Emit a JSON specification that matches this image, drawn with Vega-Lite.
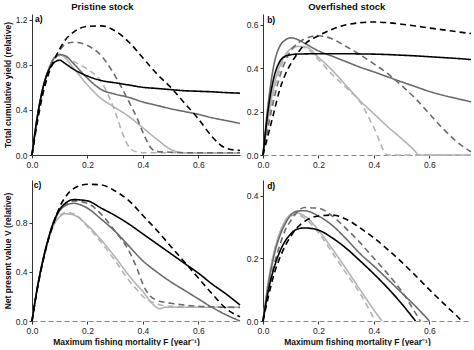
{
  "$schema": "https://vega.github.io/schema/vega-lite/v6.json",
  "padding": {"left": 3, "top": 1, "right": 0, "bottom": 0},
  "background": "white",
  "config": {
    "view": {"stroke": null},
    "font": "Liberation Sans",
    "axis": {"grid": false, "domainColor": "#333", "tickColor": "#333", "labelColor": "#222", "labelFontSize": 8.5, "titleFontSize": 8.5, "titleFontWeight": "bold", "titleColor": "#111", "tickSize": 3, "labelPadding": 2, "labelFlush": false, "labelOverlap": false},
    "title": {"fontSize": 9.5, "fontWeight": "bold", "color": "#111", "anchor": "start"},
    "line": {"strokeWidth": 1.6, "interpolate": "monotone"}
  },
  "datasets": {
    "curves": [
      {"p":"a","F":0,"ks":0,"kd":0,"gs":0,"gd":0,"ls":0,"ld":0},
      {"p":"a","F":0.02,"ks":0.35,"kd":0.3,"gs":0.35,"gd":0.33,"ls":0.35,"ld":0.35},
      {"p":"a","F":0.04,"ks":0.6,"kd":0.55,"gs":0.6,"gd":0.57,"ls":0.6,"ld":0.6},
      {"p":"a","F":0.06,"ks":0.75,"kd":0.72,"gs":0.76,"gd":0.74,"ls":0.76,"ld":0.76},
      {"p":"a","F":0.08,"ks":0.82,"kd":0.84,"gs":0.86,"gd":0.85,"ls":0.86,"ld":0.85},
      {"p":"a","F":0.1,"ks":0.84,"kd":0.94,"gs":0.89,"gd":0.93,"ls":0.89,"ld":0.88},
      {"p":"a","F":0.12,"ks":0.81,"kd":1.02,"gs":0.88,"gd":0.98,"ls":0.86,"ld":0.87},
      {"p":"a","F":0.15,"ks":0.76,"kd":1.09,"gs":0.81,"gd":1.0,"ls":0.77,"ld":0.83},
      {"p":"a","F":0.2,"ks":0.7,"kd":1.14,"gs":0.68,"gd":0.97,"ls":0.62,"ld":0.76},
      {"p":"a","F":0.25,"ks":0.66,"kd":1.145,"gs":0.58,"gd":0.88,"ls":0.5,"ld":0.65},
      {"p":"a","F":0.3,"ks":0.64,"kd":1.1,"gs":0.54,"gd":0.7,"ls":0.42,"ld":0.38},
      {"p":"a","F":0.33,"ld":0.17},
      {"p":"a","F":0.35,"ks":0.62,"kd":1.0,"gs":0.51,"gd":0.47,"ls":0.34,"ld":0.07},
      {"p":"a","F":0.38,"gd":0.32,"ld":0.025},
      {"p":"a","F":0.4,"ks":0.6,"kd":0.86,"gs":0.47,"gd":0.2,"ls":0.24,"ld":0.02},
      {"p":"a","F":0.43,"gd":0.06},
      {"p":"a","F":0.45,"ks":0.59,"kd":0.72,"gs":0.44,"gd":0.03,"ls":0.14,"ld":0.02},
      {"p":"a","F":0.5,"ks":0.58,"kd":0.6,"gs":0.41,"gd":0.025,"ls":0.05,"ld":0.02},
      {"p":"a","F":0.55,"ks":0.57,"kd":0.46,"gs":0.385,"gd":0.02,"ls":0.02,"ld":0.02},
      {"p":"a","F":0.6,"ks":0.565,"kd":0.32,"gs":0.36,"gd":0.02,"ls":0.015,"ld":0.02},
      {"p":"a","F":0.65,"ks":0.56,"kd":0.16,"gs":0.33,"gd":0.02,"ls":0.015,"ld":0.02},
      {"p":"a","F":0.7,"ks":0.553,"kd":0.06,"gs":0.305,"gd":0.02,"ls":0.015,"ld":0.02},
      {"p":"a","F":0.75,"ks":0.548,"kd":0.04,"gs":0.28,"gd":0.02,"ls":0.015,"ld":0.02},

      {"p":"b","F":0,"ks":0,"kd":0,"gs":0,"gd":0,"ls":0,"ld":0},
      {"p":"b","F":0.02,"ks":0.22,"kd":0.1,"gs":0.25,"gd":0.14,"ls":0.18,"ld":0.16},
      {"p":"b","F":0.04,"ks":0.36,"kd":0.2,"gs":0.42,"gd":0.26,"ls":0.32,"ld":0.3},
      {"p":"b","F":0.06,"ks":0.43,"kd":0.3,"gs":0.5,"gd":0.36,"ls":0.41,"ld":0.39},
      {"p":"b","F":0.08,"ks":0.455,"kd":0.37,"gs":0.53,"gd":0.43,"ls":0.46,"ld":0.45},
      {"p":"b","F":0.1,"ks":0.462,"kd":0.42,"gs":0.54,"gd":0.48,"ls":0.49,"ld":0.48},
      {"p":"b","F":0.12,"ks":0.465,"kd":0.46,"gs":0.535,"gd":0.51,"ls":0.5,"ld":0.5},
      {"p":"b","F":0.15,"ks":0.466,"kd":0.51,"gs":0.515,"gd":0.535,"ls":0.5,"ld":0.495},
      {"p":"b","F":0.2,"ks":0.467,"kd":0.55,"gs":0.48,"gd":0.55,"ls":0.45,"ld":0.44},
      {"p":"b","F":0.25,"ks":0.467,"kd":0.58,"gs":0.455,"gd":0.535,"ls":0.39,"ld":0.37},
      {"p":"b","F":0.3,"ks":0.467,"kd":0.6,"gs":0.43,"gd":0.5,"ls":0.32,"ld":0.31},
      {"p":"b","F":0.35,"ks":0.466,"kd":0.61,"gs":0.405,"gd":0.462,"ls":0.25,"ld":0.245},
      {"p":"b","F":0.4,"ks":0.465,"kd":0.613,"gs":0.383,"gd":0.42,"ls":0.19,"ld":0.125},
      {"p":"b","F":0.45,"ks":0.463,"kd":0.61,"gs":0.36,"gd":0.375,"ls":0.13,"ld":0},
      {"p":"b","F":0.5,"ks":0.46,"kd":0.603,"gs":0.337,"gd":0.32,"ls":0.075,"ld":0},
      {"p":"b","F":0.55,"ks":0.457,"kd":0.595,"gs":0.315,"gd":0.26,"ls":0.015,"ld":0},
      {"p":"b","F":0.56,"ls":0},
      {"p":"b","F":0.6,"ks":0.453,"kd":0.585,"gs":0.293,"gd":0.19,"ls":0,"ld":0},
      {"p":"b","F":0.65,"ks":0.449,"kd":0.577,"gs":0.275,"gd":0.12,"ls":0,"ld":0},
      {"p":"b","F":0.7,"ks":0.445,"kd":0.568,"gs":0.26,"gd":0.06,"ls":0,"ld":0},
      {"p":"b","F":0.75,"ks":0.44,"kd":0.56,"gs":0.245,"gd":0.015,"ls":0,"ld":0},

      {"p":"c","F":0,"ks":0,"kd":0,"gs":0,"gd":0,"ls":0,"ld":0},
      {"p":"c","F":0.02,"ks":0.28,"kd":0.27,"gs":0.28,"gd":0.28,"ls":0.28,"ld":0.28},
      {"p":"c","F":0.04,"ks":0.5,"kd":0.49,"gs":0.5,"gd":0.5,"ls":0.5,"ld":0.5},
      {"p":"c","F":0.06,"ks":0.68,"kd":0.67,"gs":0.68,"gd":0.68,"ls":0.67,"ld":0.67},
      {"p":"c","F":0.08,"ks":0.82,"kd":0.81,"gs":0.81,"gd":0.82,"ls":0.79,"ld":0.79},
      {"p":"c","F":0.1,"ks":0.91,"kd":0.93,"gs":0.9,"gd":0.91,"ls":0.85,"ld":0.86},
      {"p":"c","F":0.12,"ks":0.96,"kd":1.01,"gs":0.94,"gd":0.95,"ls":0.875,"ld":0.885},
      {"p":"c","F":0.15,"ks":0.99,"kd":1.08,"gs":0.96,"gd":0.98,"ls":0.865,"ld":0.875},
      {"p":"c","F":0.2,"ks":0.98,"kd":1.115,"gs":0.92,"gd":0.96,"ls":0.78,"ld":0.77},
      {"p":"c","F":0.25,"ks":0.92,"kd":1.11,"gs":0.83,"gd":0.87,"ls":0.66,"ld":0.64},
      {"p":"c","F":0.3,"ks":0.86,"kd":1.06,"gs":0.73,"gd":0.73,"ls":0.52,"ld":0.49},
      {"p":"c","F":0.35,"ks":0.79,"kd":0.98,"gs":0.61,"gd":0.57,"ls":0.37,"ld":0.33},
      {"p":"c","F":0.38,"gd":0.42,"ls":0.29,"ld":0.25},
      {"p":"c","F":0.4,"ks":0.71,"kd":0.86,"gs":0.49,"gd":0.3,"ls":0.24,"ld":0.2},
      {"p":"c","F":0.42,"gd":0.22},
      {"p":"c","F":0.43,"ls":0.15},
      {"p":"c","F":0.45,"ks":0.63,"kd":0.74,"gs":0.4,"gd":0.17,"ls":0.11,"ld":0.14},
      {"p":"c","F":0.46,"ls":0.1},
      {"p":"c","F":0.48,"ls":0.112},
      {"p":"c","F":0.5,"ks":0.55,"kd":0.61,"gs":0.32,"gd":0.145,"ls":0.112,"ld":0.12},
      {"p":"c","F":0.55,"ks":0.47,"kd":0.48,"gs":0.25,"gd":0.13,"ls":0.112,"ld":0.115},
      {"p":"c","F":0.6,"ks":0.39,"kd":0.35,"gs":0.18,"gd":0.12,"ls":0.112,"ld":0.113},
      {"p":"c","F":0.65,"ks":0.3,"kd":0.22,"gs":0.11,"gd":0.115,"ls":0.112,"ld":0.113},
      {"p":"c","F":0.7,"ks":0.22,"kd":0.1,"gs":0.05,"gd":0.112,"ls":0.112,"ld":0.113},
      {"p":"c","F":0.75,"ks":0.13,"kd":0.035,"gs":0.0,"gd":0.11,"ls":0.112,"ld":0.113},

      {"p":"d","F":0,"ks":0,"kd":0,"gs":0,"gd":0,"ls":0,"ld":0},
      {"p":"d","F":0.02,"ks":0.1,"kd":0.08,"gs":0.12,"gd":0.1,"ls":0.13,"ld":0.13},
      {"p":"d","F":0.04,"ks":0.17,"kd":0.15,"gs":0.21,"gd":0.18,"ls":0.22,"ld":0.22},
      {"p":"d","F":0.06,"ks":0.22,"kd":0.2,"gs":0.27,"gd":0.24,"ls":0.28,"ld":0.28},
      {"p":"d","F":0.08,"ks":0.255,"kd":0.24,"gs":0.31,"gd":0.29,"ls":0.32,"ld":0.315},
      {"p":"d","F":0.1,"ks":0.278,"kd":0.27,"gs":0.338,"gd":0.32,"ls":0.34,"ld":0.335},
      {"p":"d","F":0.12,"ks":0.292,"kd":0.295,"gs":0.35,"gd":0.345,"ls":0.345,"ld":0.34},
      {"p":"d","F":0.15,"ks":0.297,"kd":0.318,"gs":0.352,"gd":0.362,"ls":0.335,"ld":0.328},
      {"p":"d","F":0.2,"ks":0.29,"kd":0.335,"gs":0.335,"gd":0.36,"ls":0.29,"ld":0.282},
      {"p":"d","F":0.25,"ks":0.265,"kd":0.338,"gs":0.305,"gd":0.335,"ls":0.23,"ld":0.218},
      {"p":"d","F":0.3,"ks":0.232,"kd":0.325,"gs":0.262,"gd":0.295,"ls":0.166,"ld":0.152},
      {"p":"d","F":0.35,"ks":0.192,"kd":0.297,"gs":0.215,"gd":0.25,"ls":0.1,"ld":0.088},
      {"p":"d","F":0.4,"ks":0.15,"kd":0.265,"gs":0.175,"gd":0.2,"ls":0.035,"ld":0.008},
      {"p":"d","F":0.405,"ld":0},
      {"p":"d","F":0.429,"ls":0},
      {"p":"d","F":0.45,"ks":0.105,"kd":0.228,"gs":0.133,"gd":0.15},
      {"p":"d","F":0.5,"ks":0.055,"kd":0.188,"gs":0.09,"gd":0.095},
      {"p":"d","F":0.55,"ks":0.0,"kd":0.145,"gs":0.047,"gd":0.025},
      {"p":"d","F":0.567,"gd":0},
      {"p":"d","F":0.6,"kd":0.1,"gs":0.0},
      {"p":"d","F":0.65,"kd":0.057},
      {"p":"d","F":0.7,"kd":0.015},
      {"p":"d","F":0.717,"kd":0}
    ]
  },
  "columns": 2,
  "bounds": "flush",
  "spacing": {"row": 25, "column": 23},
  "concat": [
    {
      "width": 208, "height": 141,
      "title": {"text": "Pristine stock", "dx": 68, "offset": 3},
      "layer": [
        {
          "data": {"name": "curves"},
          "transform": [{"filter": "datum.p == 'a'"}, {"fold": ["ls","ld","gs","gd","ks","kd"], "as": ["s","v"]}, {"filter": "isValid(datum.v)"}],
          "mark": {"type": "line"},
          "encoding": {
            "x": {"field": "F", "type": "quantitative", "scale": {"domain": [0, 0.75], "nice": false}, "axis": {"values": [0, 0.2, 0.4, 0.6], "format": ".1f", "title": null}},
            "y": {"field": "v", "type": "quantitative", "scale": {"domain": [0, 1.25], "nice": false}, "axis": {"values": [0, 0.2, 0.4, 0.6, 0.8, 1.0, 1.2], "format": ".1f", "title": "Total cumulative yield (relative)", "titlePadding": 3}},
            "color": {"field": "s", "type": "nominal", "scale": {"domain": ["ks","kd","gs","gd","ls","ld"], "range": ["#000000","#000000","#6b6b6b","#6b6b6b","#b3b3b3","#b3b3b3"]}, "legend": null},
            "strokeDash": {"field": "s", "type": "nominal", "scale": {"domain": ["ks","kd","gs","gd","ls","ld"], "range": [[1,0],[6,4],[1,0],[6,4],[1,0],[6,4]]}, "legend": null},
            "order": {"field": "F", "type": "quantitative"}
          }
        },
        {
          "data": {"values": [{"lab": "a)", "F": 0.011, "v": 1.21}]},
          "mark": {"type": "text", "align": "left", "baseline": "middle", "fontWeight": "bold", "fontSize": 8.5},
          "encoding": {"x": {"field": "F", "type": "quantitative"}, "y": {"field": "v", "type": "quantitative"}, "text": {"field": "lab"}}
        }
      ]
    },
    {
      "width": 208, "height": 141,
      "title": {"text": "Overfished stock", "dx": 62, "offset": 3},
      "layer": [
        {
          "data": {"name": "curves"},
          "transform": [{"filter": "datum.p == 'b'"}, {"fold": ["ls","ld","gs","gd","ks","kd"], "as": ["s","v"]}, {"filter": "isValid(datum.v)"}],
          "mark": {"type": "line"},
          "encoding": {
            "x": {"field": "F", "type": "quantitative", "scale": {"domain": [0, 0.75], "nice": false}, "axis": {"values": [0, 0.2, 0.4, 0.6], "format": ".1f", "title": null, "domainDash": [5, 3], "domainColor": "#888"}},
            "y": {"field": "v", "type": "quantitative", "scale": {"domain": [0, 0.65], "nice": false}, "axis": {"values": [0, 0.1, 0.2, 0.3, 0.4, 0.5, 0.6], "format": ".1f", "title": null}},
            "color": {"field": "s", "type": "nominal", "scale": {"domain": ["ks","kd","gs","gd","ls","ld"], "range": ["#000000","#000000","#6b6b6b","#6b6b6b","#b3b3b3","#b3b3b3"]}, "legend": null},
            "strokeDash": {"field": "s", "type": "nominal", "scale": {"domain": ["ks","kd","gs","gd","ls","ld"], "range": [[1,0],[6,4],[1,0],[6,4],[1,0],[6,4]]}, "legend": null},
            "order": {"field": "F", "type": "quantitative"}
          }
        },
        {
          "data": {"values": [{"lab": "b)", "F": 0.015, "v": 0.623}]},
          "mark": {"type": "text", "align": "left", "baseline": "middle", "fontWeight": "bold", "fontSize": 8.5},
          "encoding": {"x": {"field": "F", "type": "quantitative"}, "y": {"field": "v", "type": "quantitative"}, "text": {"field": "lab"}}
        }
      ]
    },
    {
      "width": 208, "height": 141,
      "layer": [
        {
          "data": {"name": "curves"},
          "transform": [{"filter": "datum.p == 'c'"}, {"fold": ["ls","ld","gs","gd","ks","kd"], "as": ["s","v"]}, {"filter": "isValid(datum.v)"}],
          "mark": {"type": "line"},
          "encoding": {
            "x": {"field": "F", "type": "quantitative", "scale": {"domain": [0, 0.75], "nice": false}, "axis": {"values": [0, 0.2, 0.4, 0.6], "format": ".1f", "title": "Maximum fishing mortality F (year⁻¹)", "titleX": 94, "titlePadding": 3, "domainDash": [5, 3], "domainColor": "#888"}},
            "y": {"field": "v", "type": "quantitative", "scale": {"domain": [0, 1.15], "nice": false}, "axis": {"values": [0, 0.2, 0.4, 0.6, 0.8, 1.0], "format": ".1f", "title": "Net present value V (relative)", "titlePadding": 3}},
            "color": {"field": "s", "type": "nominal", "scale": {"domain": ["ks","kd","gs","gd","ls","ld"], "range": ["#000000","#000000","#6b6b6b","#6b6b6b","#b3b3b3","#b3b3b3"]}, "legend": null},
            "strokeDash": {"field": "s", "type": "nominal", "scale": {"domain": ["ks","kd","gs","gd","ls","ld"], "range": [[1,0],[6,4],[1,0],[6,4],[1,0],[6,4]]}, "legend": null},
            "order": {"field": "F", "type": "quantitative"}
          }
        },
        {
          "data": {"values": [{"lab": "c)", "F": 0.006, "v": 1.11}]},
          "mark": {"type": "text", "align": "left", "baseline": "middle", "fontWeight": "bold", "fontSize": 8.5},
          "encoding": {"x": {"field": "F", "type": "quantitative"}, "y": {"field": "v", "type": "quantitative"}, "text": {"field": "lab"}}
        }
      ]
    },
    {
      "width": 208, "height": 141,
      "layer": [
        {
          "data": {"name": "curves"},
          "transform": [{"filter": "datum.p == 'd'"}, {"fold": ["ls","ld","gs","gd","ks","kd"], "as": ["s","v"]}, {"filter": "isValid(datum.v)"}],
          "mark": {"type": "line"},
          "encoding": {
            "x": {"field": "F", "type": "quantitative", "scale": {"domain": [0, 0.75], "nice": false}, "axis": {"values": [0, 0.2, 0.4, 0.6], "format": ".1f", "title": "Maximum fishing mortality F (year⁻¹)", "titleX": 94, "titlePadding": 3, "domainDash": [5, 3], "domainColor": "#888"}},
            "y": {"field": "v", "type": "quantitative", "scale": {"domain": [0, 0.45], "nice": false}, "axis": {"values": [0, 0.1, 0.2, 0.3, 0.4], "format": ".1f", "title": null}},
            "color": {"field": "s", "type": "nominal", "scale": {"domain": ["ks","kd","gs","gd","ls","ld"], "range": ["#000000","#000000","#6b6b6b","#6b6b6b","#b3b3b3","#b3b3b3"]}, "legend": null},
            "strokeDash": {"field": "s", "type": "nominal", "scale": {"domain": ["ks","kd","gs","gd","ls","ld"], "range": [[1,0],[6,4],[1,0],[6,4],[1,0],[6,4]]}, "legend": null},
            "order": {"field": "F", "type": "quantitative"}
          }
        },
        {
          "data": {"values": [{"lab": "d)", "F": 0.015, "v": 0.432}]},
          "mark": {"type": "text", "align": "left", "baseline": "middle", "fontWeight": "bold", "fontSize": 8.5},
          "encoding": {"x": {"field": "F", "type": "quantitative"}, "y": {"field": "v", "type": "quantitative"}, "text": {"field": "lab"}}
        }
      ]
    }
  ]
}
